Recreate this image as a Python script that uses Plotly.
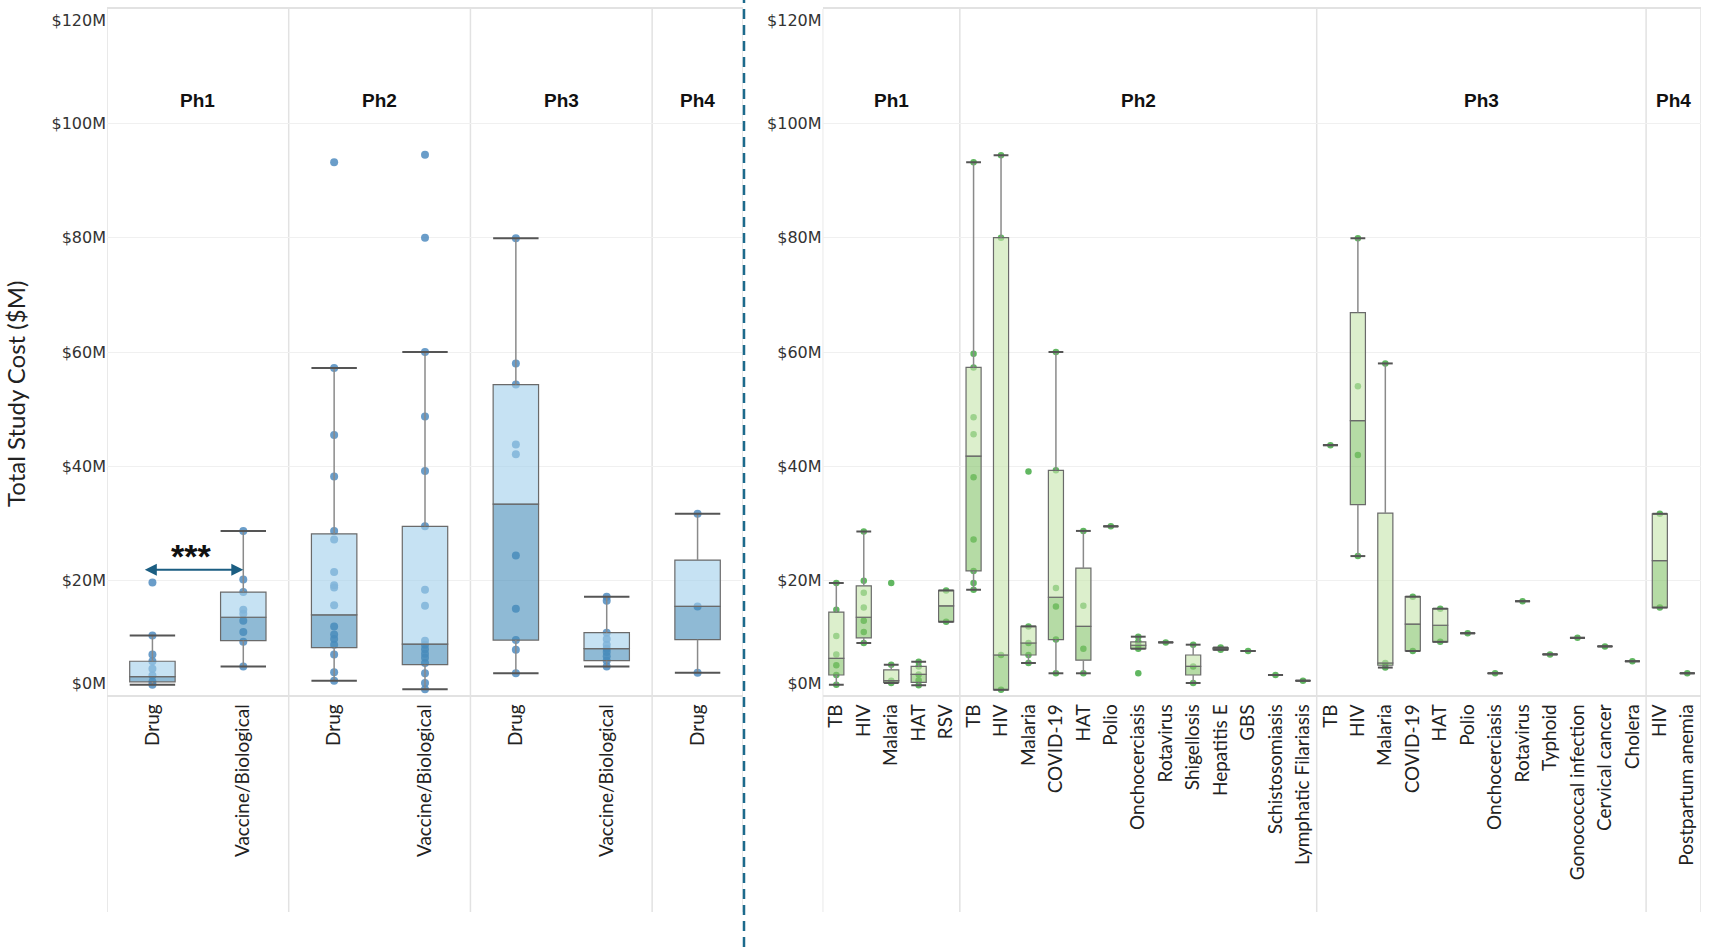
import plotly.graph_objects as go

# ---------------- data ----------------
y_tick_values = [0, 20, 40, 60, 80, 100, 120]
y_tick_labels = ["$0M", "$20M", "$40M", "$60M", "$80M", "$100M", "$120M"]

# Left panel: by product type
left_phases = ["Ph1", "Ph1", "Ph2", "Ph2", "Ph3", "Ph3", "Ph4"]
left_categories = ["Drug", "Vaccine/Biological", "Drug", "Vaccine/Biological",
                   "Drug", "Vaccine/Biological", "Drug"]
left_low = [1.8, 5.0, 2.5, 1.0, 3.8, 5.0, 3.9]
left_q1 = [2.3, 9.5, 8.3, 5.3, 9.6, 6.0, 9.7]
left_median = [3.2, 13.6, 14.0, 8.9, 33.4, 8.1, 15.5]
left_q3 = [5.9, 18.0, 28.2, 29.5, 54.3, 10.9, 23.6]
left_high = [10.4, 28.7, 57.2, 60.0, 79.9, 17.2, 31.7]
left_points = [
    [19.7, 10.4, 7.1, 5.9, 4.6, 3.4, 2.3, 1.8],
    [28.7, 20.2, 18.0, 14.9, 14.2, 13.0, 11.0, 9.3, 5.0],
    [93.2, 57.2, 45.5, 38.2, 28.7, 27.2, 21.5, 19.2, 18.8, 15.7, 12.0, 10.6, 9.8, 8.8, 7.1, 4.0, 2.5],
    [94.5, 80.0, 60.0, 48.7, 39.2, 29.5, 18.4, 15.6, 9.5, 8.8, 8.0, 7.2, 6.5, 5.6, 3.8, 2.1, 1.0],
    [79.9, 58.0, 54.3, 43.8, 42.1, 24.4, 15.1, 9.6, 7.9, 3.8],
    [17.2, 16.5, 10.9, 9.8, 8.8, 8.1, 7.5, 6.8, 6.0, 5.0],
    [31.7, 15.5, 3.9],
]

# Right panel: by disease
right_phases = ["Ph1"] * 5 + ["Ph2"] * 13 + ["Ph3"] * 12 + ["Ph4"] * 2
right_categories = [
    "TB", "HIV", "Malaria", "HAT", "RSV",
    "TB", "HIV", "Malaria", "COVID-19", "HAT", "Polio", "Onchocerciasis", "Rotavirus",
    "Shigellosis", "Hepatitis E", "GBS", "Schistosomiasis", "Lymphatic Filariasis",
    "TB", "HIV", "Malaria", "COVID-19", "HAT", "Polio", "Onchocerciasis", "Rotavirus",
    "Typhoid", "Gonococcal infection", "Cervical cancer", "Cholera",
    "HIV", "Postpartum anemia",
]
right_low = [1.8, 9.1, 2.1, 1.7, 12.8,
             18.4, 0.9, 5.6, 3.8, 3.8, 29.5, 8.1, 9.2, 2.1, 7.9, 7.7, 3.5, 2.5,
             43.7, 24.3, 4.8, 7.7, 9.3, 10.8, 3.8, 16.4, 7.1, 10.0, 8.5, 5.9,
             15.3, 3.8]
right_q1 = [3.5, 10.0, 2.2, 2.2, 12.8,
            21.7, 0.9, 7.0, 9.7, 6.1, 29.5, 8.1, 9.2, 3.5, 7.9, 7.7, 3.5, 2.5,
            43.7, 33.3, 5.2, 7.7, 9.3, 10.8, 3.8, 16.4, 7.1, 10.0, 8.5, 5.9,
            15.3, 3.8]
right_median = [6.4, 13.6, 2.5, 3.6, 15.6,
                41.8, 7.0, 9.1, 17.1, 12.0, 29.5, 8.7, 9.2, 5.0, 8.1, 7.7, 3.5, 2.5,
                43.7, 48.0, 5.6, 12.4, 12.2, 10.8, 3.8, 16.4, 7.1, 10.0, 8.5, 5.9,
                23.5, 3.8]
right_q3 = [14.5, 19.1, 4.4, 5.0, 18.3,
            57.3, 80.0, 12.0, 39.3, 22.2, 29.5, 9.3, 9.2, 7.0, 8.3, 7.7, 3.5, 2.5,
            43.7, 66.9, 31.8, 17.2, 15.1, 10.8, 3.8, 16.4, 7.1, 10.0, 8.5, 5.9,
            31.7, 3.8]
right_high = [19.6, 28.6, 5.3, 5.8, 18.3,
              93.2, 94.4, 12.0, 60.0, 28.7, 29.5, 10.2, 9.2, 8.8, 8.3, 7.7, 3.5, 2.5,
              43.7, 79.9, 58.0, 17.2, 15.1, 10.8, 3.8, 16.4, 7.1, 10.0, 8.5, 5.9,
              31.7, 3.8]
right_points = [
    [19.6, 14.9, 10.3, 7.1, 5.2, 3.5, 1.8],
    [28.6, 20.0, 17.9, 15.3, 13.0, 11.0, 9.1],
    [19.6, 5.3, 2.5, 2.1],
    [5.8, 5.0, 3.6, 2.6, 1.7],
    [18.3, 12.8],
    [93.2, 59.7, 57.3, 48.6, 45.6, 38.1, 27.2, 21.7, 19.6, 18.4],
    [94.4, 80.0, 7.0, 0.9],
    [39.1, 12.0, 9.1, 7.0, 5.6],
    [60.0, 39.3, 18.7, 15.5, 9.7, 3.8],
    [28.7, 15.6, 8.1, 3.8],
    [29.5],
    [10.2, 9.3, 8.7, 8.1, 3.8],
    [9.2],
    [8.8, 5.0, 2.1],
    [8.3, 7.9],
    [7.7],
    [3.5],
    [2.5],
    [43.7],
    [79.9, 54.0, 42.0, 24.3],
    [58.0, 5.6, 4.8],
    [17.2, 7.7],
    [15.1, 9.3],
    [10.8],
    [3.8],
    [16.4],
    [7.1],
    [10.0],
    [8.5],
    [5.9],
    [31.7, 15.3],
    [3.8],
]

# significance marker between Ph1 Drug and Ph1 Vaccine/Biological
sig_text = "***"
sig_level = 21.9

# ---------------- figure ----------------
W, H = 1713, 947
Y_BOTTOM_PX, Y_TOP_PX = 695, 9
ydom = [(H - Y_BOTTOM_PX) / H, (H - Y_TOP_PX) / H]
left_dom = [107 / W, 743 / W]
right_dom = [822.6 / W, 1701 / W]
DIVIDER_BOTTOM = (H - 912) / H

fig = go.Figure()

Y_FONT = dict(family="DejaVu Sans", size=16, color="#333333")
X_FONT = dict(family="Lato", size=19, color="#222222")


def add_panel(base_x, base_y, top_x, top_y, phases, cats, low, q1, med, q3, high, pts,
              box_w, cap_hw, dark, light, pt_color, msize):
    idx = list(range(len(cats)))
    px, py = [], []
    for i, p in zip(idx, pts):
        px += [i] * len(p)
        py += p
    fig.add_trace(go.Scatter(x=px, y=py, mode="markers",
                             marker=dict(color=pt_color, size=msize, line=dict(width=0)),
                             xaxis=base_x, yaxis=base_y, showlegend=False, hoverinfo="y"))
    fig.add_trace(go.Bar(x=idx, y=[m - a for m, a in zip(med, q1)], base=q1, width=box_w,
                         marker=dict(color=dark, line=dict(color="#6a6a6a", width=1.2)),
                         xaxis=top_x, yaxis=top_y, showlegend=False))
    fig.add_trace(go.Bar(x=idx, y=[b - m for b, m in zip(q3, med)], base=med, width=box_w,
                         marker=dict(color=light, line=dict(color="#6a6a6a", width=1.2)),
                         xaxis=top_x, yaxis=top_y, showlegend=False))
    wx, wy, cx, cy = [], [], [], []
    for i in idx:
        wx += [i, i, None, i, i, None]
        wy += [q3[i], high[i], None, q1[i], low[i], None]
        cx += [i - cap_hw, i + cap_hw, None, i - cap_hw, i + cap_hw, None]
        cy += [high[i], high[i], None, low[i], low[i], None]
    fig.add_trace(go.Scatter(x=wx, y=wy, mode="lines", line=dict(color="#8a8a8a", width=1.5),
                             xaxis=top_x, yaxis=top_y, showlegend=False, hoverinfo="skip"))
    fig.add_trace(go.Scatter(x=cx, y=cy, mode="lines", line=dict(color="#555555", width=2),
                             xaxis=top_x, yaxis=top_y, showlegend=False, hoverinfo="skip"))

    xref = base_x
    bounds = [-0.5] + [i - 0.5 for i in idx[1:] if phases[i] != phases[i - 1]] + [len(idx) - 0.5]
    for b in bounds:
        fig.add_shape(type="line", xref=xref, yref="paper", x0=b, x1=b,
                      y0=DIVIDER_BOTTOM, y1=ydom[1], layer="below",
                      line=dict(color="#e2e2e2", width=1.5))
    order = []
    for ph in phases:
        if ph not in order:
            order.append(ph)
    for ph in order:
        members = [i for i in idx if phases[i] == ph]
        fig.add_annotation(x=sum(members) / len(members), y=104, xref=xref, yref=base_y,
                           text="<b>%s</b>" % ph, showarrow=False,
                           font=dict(family="Liberation Sans", size=19, color="#111111"))


add_panel("x", "y", "x3", "y3", left_phases, left_categories, left_low, left_q1,
          left_median, left_q3, left_high, left_points, 0.5, 0.25,
          "rgba(68,140,185,0.6)", "rgba(160,207,235,0.6)", "rgba(80,140,192,0.85)", 8)
add_panel("x2", "y2", "x4", "y4", right_phases, right_categories, right_low, right_q1,
          right_median, right_q3, right_high, right_points, 0.55, 0.27,
          "rgba(132,195,105,0.6)", "rgba(197,228,170,0.6)", "rgba(80,175,80,0.9)", 6.5)

# empty carrier traces so the top-label axes get drawn
fig.add_trace(go.Scatter(x=[], y=[], xaxis="x", yaxis="y5", showlegend=False, hoverinfo="skip"))
fig.add_trace(go.Scatter(x=[], y=[], xaxis="x2", yaxis="y6", showlegend=False, hoverinfo="skip"))

n_left = len(left_categories)
n_right = len(right_categories)

mid_vals = y_tick_values[1:-1]
mid_text = y_tick_labels[1:-1]

common_y = dict(range=[0, 120], tickfont=Y_FONT, zeroline=False, showline=False, ticks="",
                automargin=False, domain=ydom, fixedrange=True)
common_x = dict(tickangle=-90, tickfont=X_FONT, showgrid=False, zeroline=False,
                showline=True, mirror=True, linecolor="#e2e2e2", linewidth=1.5,
                ticks="", automargin=False, fixedrange=True)
base_y = dict(common_y, tickvals=mid_vals, ticktext=mid_text, showgrid=True,
              gridcolor="#f0f0f0", gridwidth=1)
bottom_y = dict(common_y, tickvals=y_tick_values[:1], ticktext=y_tick_labels[:1],
                showgrid=False, ticklabelposition="outside top")
top_y = dict(common_y, tickvals=y_tick_values[-1:], ticktext=y_tick_labels[-1:],
             showgrid=False, ticklabelposition="outside bottom")

fig.update_layout(
    width=W, height=H, margin=dict(l=0, r=0, t=0, b=0), autosize=False,
    paper_bgcolor="white", plot_bgcolor="white", barmode="overlay", showlegend=False,
    xaxis=dict(common_x, domain=left_dom, range=[-0.5, n_left - 0.5], anchor="y",
               tickvals=list(range(n_left)), ticktext=left_categories),
    yaxis=dict(base_y, anchor="x"),
    xaxis2=dict(common_x, domain=right_dom, range=[-0.5, n_right - 0.5], anchor="y2",
                tickvals=list(range(n_right)), ticktext=right_categories),
    yaxis2=dict(base_y, anchor="x2"),
    xaxis3=dict(overlaying="x", range=[-0.5, n_left - 0.5], visible=False, anchor="y3",
                fixedrange=True),
    yaxis3=dict(bottom_y, overlaying="y", anchor="x3"),
    xaxis4=dict(overlaying="x2", range=[-0.5, n_right - 0.5], visible=False, anchor="y4",
                fixedrange=True),
    yaxis4=dict(bottom_y, overlaying="y2", anchor="x4"),
    yaxis5=dict(top_y, overlaying="y", anchor="x"),
    yaxis6=dict(top_y, overlaying="y2", anchor="x2"),
)

# dashed separator between the two panels
fig.add_shape(type="line", xref="paper", yref="paper", x0=744 / W, x1=744 / W, y0=0, y1=1,
              line=dict(color="#1c6a8c", width=2.5, dash="10px,6px"))

# y-axis title
fig.add_annotation(x=15 / W, y=(H - 394) / H, xref="paper", yref="paper",
                   xanchor="center", yanchor="middle",
                   text="Total Study Cost ($M)", textangle=-90, showarrow=False,
                   font=dict(family="Lato", size=24, color="#222222"))

# significance arrow and stars
fig.add_annotation(x=1.0, y=sig_level, ax=-0.1, ay=sig_level, xref="x", yref="y",
                   axref="x", ayref="y", text="", showarrow=True, arrowside="end+start",
                   arrowhead=2, arrowsize=1.2, arrowwidth=2, arrowcolor="#1b5e82")
fig.add_annotation(x=0.42, y=sig_level + 2.4, xref="x", yref="y", text="<b>%s</b>" % sig_text,
                   showarrow=False, font=dict(family="Liberation Sans", size=34, color="#111111"))

fig.write_html("out.html")
